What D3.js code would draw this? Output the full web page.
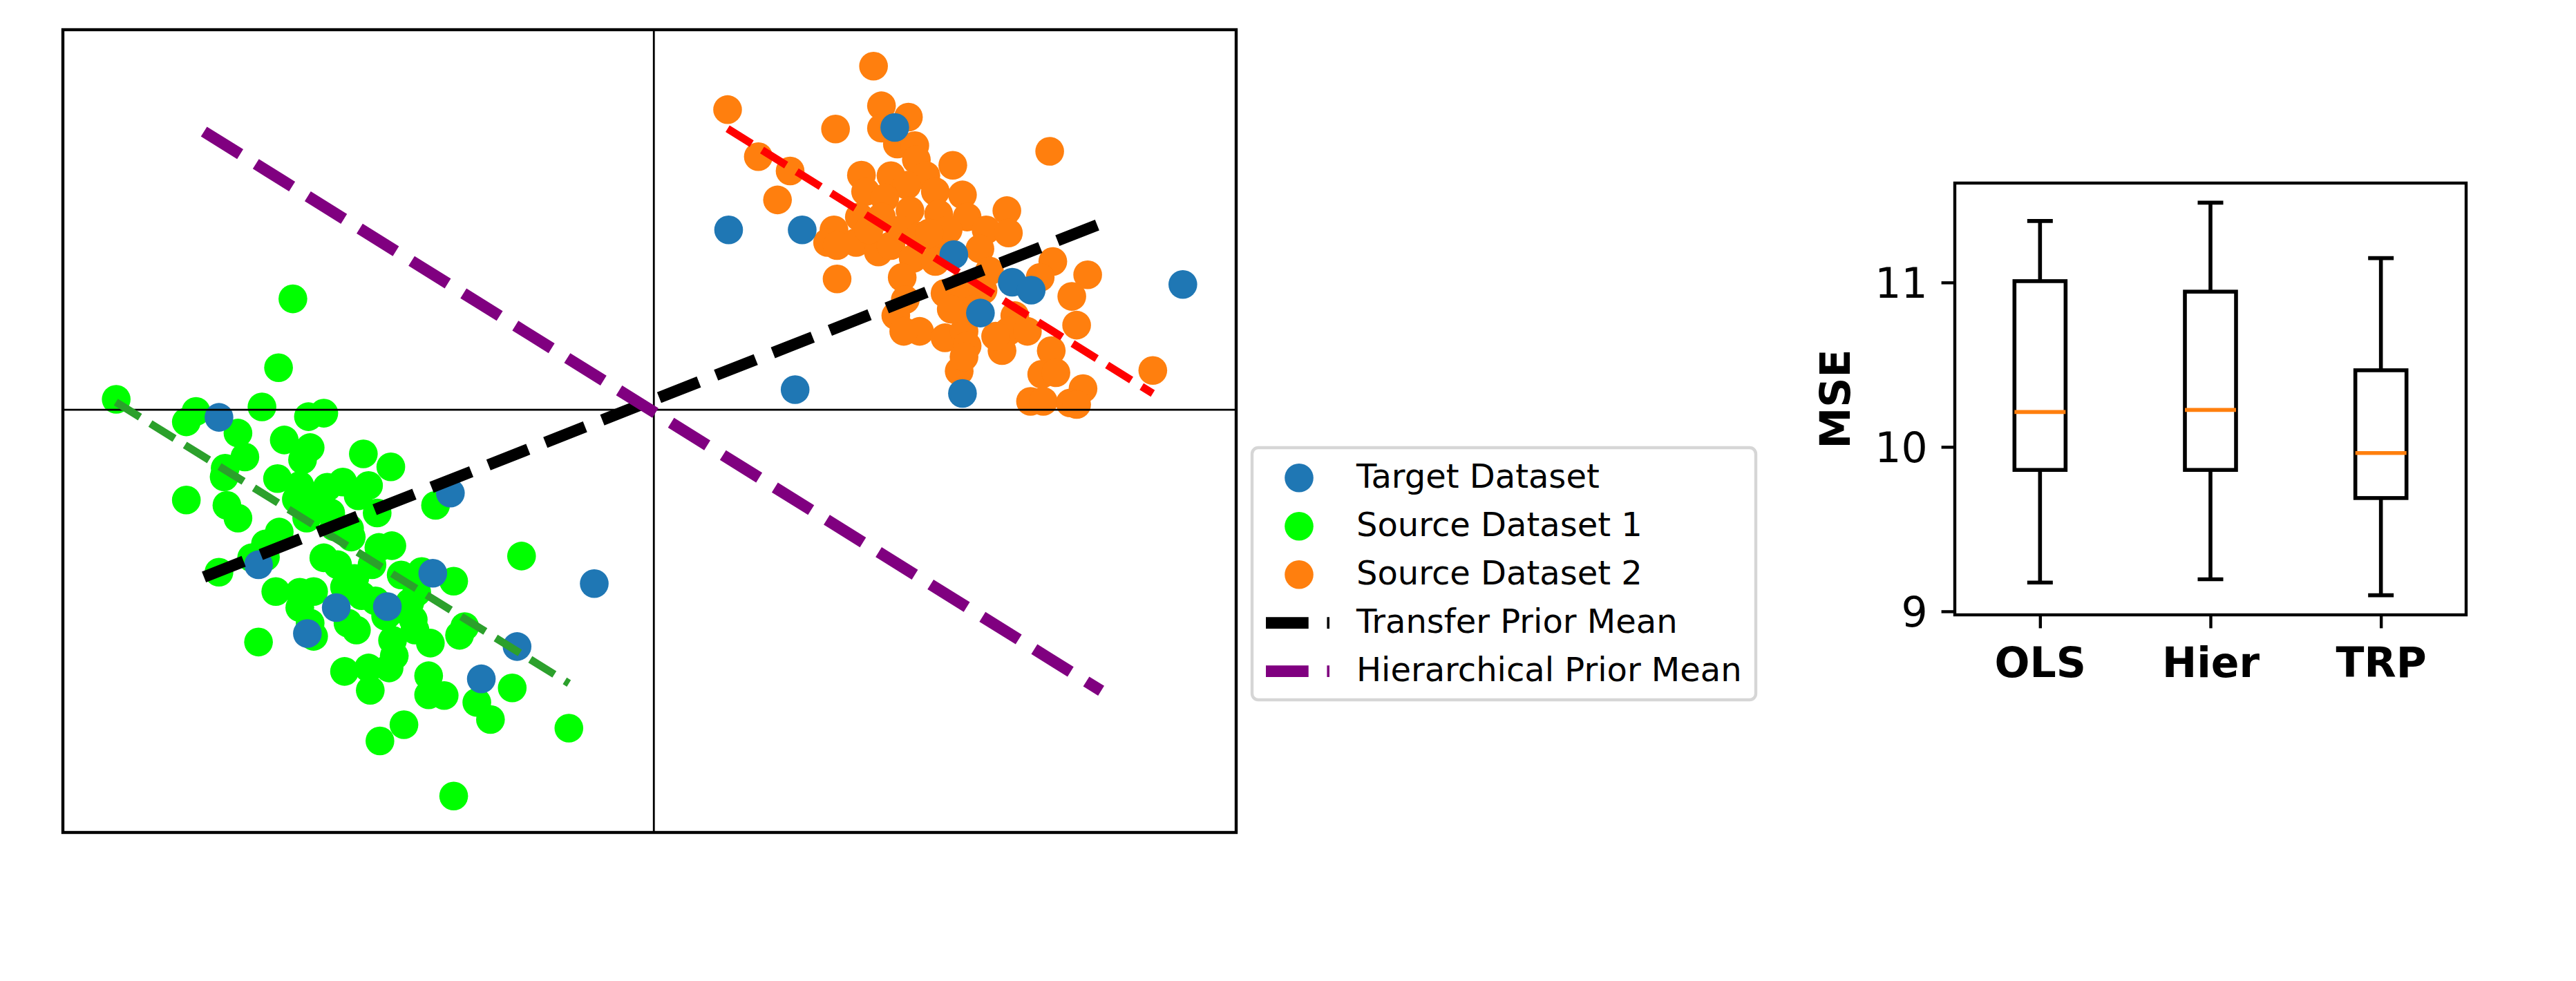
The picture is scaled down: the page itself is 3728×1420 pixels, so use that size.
<!DOCTYPE html>
<html><head><meta charset="utf-8">
<script src="https://cdn.jsdelivr.net/npm/d3@7"></script>
<style>html,body{margin:0;padding:0;background:#fff;} svg{display:block;font-family:"DejaVu Sans",sans-serif;}</style>
</head><body><svg id="chart" width="3728" height="1420"></svg>
<script>
// ---------- scatter data (x, y) ----------
const targetPoints = [[-2.518,-0.044],[-1.178,-0.482],[-2.289,-0.896],[-1.28,-0.945],[-1.839,-1.144],[-1.543,-1.138],[-2.006,-1.294],[-0.792,-1.369],[-0.999,-1.556],[-0.345,-1.005],
[1.395,1.632],[0.433,1.04],[0.859,1.04],[1.737,0.897],[2.075,0.737],[2.185,0.691],[1.891,0.559],[0.818,0.116],[1.787,0.094],[3.063,0.724]];

const source1Points = [[-2.09,0.641],[-2.173,0.243],[-3.113,0.06],[-2.651,-0.01],[-2.707,-0.07],[-2.269,0.016],[-2.0,-0.04],[-1.911,-0.02],[-2.408,-0.135],[-2.14,-0.175],
[-1.99,-0.219],[-2.368,-0.273],[-2.034,-0.289],[-2.482,-0.338],[-2.488,-0.388],[-2.179,-0.398],[-1.682,-0.255],[-1.523,-0.33],[-2.05,-0.438],[-1.891,-0.448],
[-1.801,-0.418],[-1.652,-0.438],[-1.712,-0.498],[-2.707,-0.522],[-2.472,-0.553],[-2.408,-0.627],[-1.99,-0.537],[-2.01,-0.627],[-1.602,-0.597],[-1.264,-0.553],
[-2.169,-0.707],[-2.249,-0.776],[-2.329,-0.856],[-2.249,-0.852],[-2.518,-0.939],[-1.851,-0.677],[-1.762,-0.687],[-1.911,-0.856],[-1.831,-0.896],[-1.632,-0.896],
[-1.592,-0.796],[-1.517,-0.786],[-1.463,-0.955],[-1.344,-0.935],[-1.159,-0.991],[-2.189,-1.051],[-2.05,-1.055],[-1.97,-1.051],[-2.05,-1.144],[-1.791,-1.025],
[-1.692,-1.075],[-1.612,-1.105],[-1.533,-1.174],[-1.413,-1.115],[-1.99,-1.234],[-1.97,-1.31],[-1.722,-1.274],[-1.771,-1.234],[-2.289,-1.343],[-1.513,-1.333],
[-1.503,-1.423],[-1.383,-1.274],[-1.294,-1.349],[-1.125,-1.304],[-1.095,-1.254],[-1.791,-1.513],[-1.652,-1.493],[-1.533,-1.493],[-1.642,-1.622],[-1.304,-1.538],
[-1.304,-1.648],[-1.214,-1.652],[-1.025,-1.692],[-0.946,-1.791],[-0.82,-1.608],[-0.766,-0.846],[-1.447,-1.821],[-1.586,-1.915],[-0.492,-1.841],[-1.159,-2.233],
[-1.553,-1.194],[-2.07,-0.518],[-1.871,-0.597],[-1.752,-0.736],[-1.732,-0.975],[-1.393,-1.214],[-1.373,-1.055]];

const source2Points = [[1.272,1.986],[0.427,1.735],[1.052,1.623],[1.318,1.757],[1.474,1.692],[1.318,1.628],[1.41,1.536],[1.511,1.527],[1.52,1.445],[1.731,1.413],
[2.292,1.494],[0.605,1.463],[0.789,1.38],[0.716,1.213],[1.202,1.356],[1.373,1.353],[1.575,1.353],[1.465,1.298],[1.226,1.261],[1.337,1.224],
[1.63,1.261],[1.787,1.242],[1.483,1.151],[1.649,1.132],[1.814,1.114],[2.044,1.151],[1.19,1.114],[1.318,1.114],[1.428,1.04],[1.539,1.004],
[1.704,1.04],[1.924,1.04],[2.053,1.022],[1.043,1.04],[1.006,0.967],[1.061,0.949],[1.171,0.967],[1.3,0.912],[1.373,0.949],[1.502,0.875],
[1.649,0.893],[1.888,0.93],[1.061,0.756],[1.438,0.765],[1.943,0.802],[2.31,0.857],[2.237,0.765],[2.512,0.78],[1.456,0.636],[1.686,0.673],
[1.777,0.71],[1.906,0.691],[2.42,0.655],[1.401,0.544],[1.539,0.453],[1.447,0.453],[1.686,0.416],[1.796,0.453],[1.814,0.37],[2.09,0.544],
[2.053,0.453],[2.163,0.453],[2.448,0.489],[2.016,0.342],[1.979,0.425],[2.301,0.342],[1.768,0.223],[1.796,0.306],[2.246,0.205],[2.328,0.214],
[2.485,0.122],[2.181,0.048],[2.255,0.048],[2.411,0.039],[2.448,0.03],[2.889,0.227],[1.63,0.857],[1.594,1.022],[1.245,1.04],[1.851,0.581],[1.722,0.581]];

// ---------- line endpoints ----------
const transferLine = [[-2.605,-0.967],[2.59,1.077]];
const hierLine = [[-2.605,1.608],[2.59,-1.625]];
const source1Fit = [[-3.115,0.044],[-0.492,-1.582]];
const source2Fit = [[0.427,1.625],[2.889,0.094]];

const legendLabels = ["Target Dataset","Source Dataset 1","Source Dataset 2","Transfer Prior Mean","Hierarchical Prior Mean"];

// ---------- box plot data ----------
const methods = ["OLS","Hier","TRP"];
const whiskerLow = [9.175, 9.195, 9.098];
const q1 = [9.86, 9.86, 9.689];
const medians = [10.212, 10.225, 9.963];
const q3 = [11.008, 10.944, 10.466];
const whiskerHigh = [11.374, 11.485, 11.148];
const yTickValues = [9, 10, 11];

// ---------- drawing ----------
const svg = d3.select("#chart");
svg.append("rect").attr("width",3728).attr("height",1420).attr("fill","#fff");

const C = {blue:"#1f77b4", lime:"#00ff00", orange:"#ff7f0e", purple:"#800080", red:"#ff0000", green:"#2ca02c"};
const R = 20.8;
const AX = 4.4;

// left scatter axes
const L = {x0:91, x1:1789, y0:43, y1:1205};
const all = [...targetPoints, ...source1Points, ...source2Points];
const xe = d3.extent(all, d=>d[0]), ye = d3.extent(all, d=>d[1]);
const xm = (xe[1]-xe[0])*0.05, ym = (ye[1]-ye[0])*0.05;
const x = d3.scaleLinear().domain([xe[0]-xm, xe[1]+xm]).range([L.x0, L.x1]);
const y = d3.scaleLinear().domain([ye[0]-ym, ye[1]+ym]).range([L.y1, L.y0]);

const gL = svg.append("g");
function pts(data, color){
  gL.append("g").selectAll("circle").data(data).join("circle")
    .attr("cx", d=>x(d[0])).attr("cy", d=>y(d[1])).attr("r", R).attr("fill", color);
}
pts(source1Points, C.lime);
pts(source2Points, C.orange);
pts(targetPoints, C.blue);

// zero lines
gL.append("line").attr("x1",L.x0).attr("x2",L.x1).attr("y1",y(0)).attr("y2",y(0)).attr("stroke","#000").attr("stroke-width",2.8);
gL.append("line").attr("x1",x(0)).attr("x2",x(0)).attr("y1",L.y0).attr("y2",L.y1).attr("stroke","#000").attr("stroke-width",2.8);

const line = d3.line().x(d=>x(d[0])).y(d=>y(d[1]));
function dline(data, color, w){
  gL.append("path").datum(data).attr("d", line).attr("fill","none").attr("stroke",color)
    .attr("stroke-width", w).attr("stroke-dasharray", `${3.7*w},${1.6*w}`);
}
dline(source1Fit, C.green, 11.1);
dline(source2Fit, C.red, 11.1);
dline(transferLine, "#000", 16.7);
dline(hierLine, C.purple, 16.7);

gL.append("rect").attr("x",L.x0).attr("y",L.y0).attr("width",L.x1-L.x0).attr("height",L.y1-L.y0)
  .attr("fill","none").attr("stroke","#000").attr("stroke-width",AX);

// legend
const lg = svg.append("g");
lg.append("rect").attr("x",1812).attr("y",648).attr("width",729).attr("height",365).attr("rx",9)
  .attr("fill","#fff").attr("stroke","#d6d6d6").attr("stroke-width",AX);
const rowY = [691.7, 761.7, 831.7, 901.7, 971.7];
const legendColors = [C.blue, C.lime, C.orange, "#000", C.purple];
legendLabels.forEach((lab,i)=>{
  if(i<3){
    lg.append("circle").attr("cx",1880).attr("cy",rowY[i]).attr("r",R).attr("fill",legendColors[i]);
  } else {
    lg.append("line").attr("x1",1832).attr("x2",1924).attr("y1",rowY[i]).attr("y2",rowY[i])
      .attr("stroke",legendColors[i]).attr("stroke-width",16.7).attr("stroke-dasharray","61.7,26.7");
  }
  lg.append("text").attr("x",1963).attr("y",rowY[i]+14).attr("font-size","48px").attr("fill","#000").text(lab);
});

// box plot axes
const B = {x0:2829, x1:3569, y0:265, y1:890};
const bx = d3.scaleLinear().domain([0.5, 3.5]).range([B.x0, B.x1]);
const lo = d3.min(whiskerLow), hi = d3.max(whiskerHigh), bm = (hi-lo)*0.05;
const by = d3.scaleLinear().domain([lo-bm, hi+bm]).range([B.y1, B.y0]);
const gB = svg.append("g");

const yAxis = d3.axisLeft(by).tickValues(yTickValues).tickFormat(d3.format("d")).tickSize(19.4).tickSizeOuter(0).tickPadding(20);
const gy = gB.append("g").attr("transform",`translate(${B.x0},0)`).call(yAxis);
gy.select(".domain").remove();
gy.selectAll(".tick line").attr("stroke","#000").attr("stroke-width",AX);
gy.selectAll(".tick text").attr("font-size","60px").attr("font-family","DejaVu Sans").attr("fill","#000").attr("dy","0.36em");

const xAxis = d3.axisBottom(bx).tickValues([1,2,3]).tickFormat((d,i)=>methods[i]).tickSize(19.4).tickSizeOuter(0).tickPadding(28);
const gx = gB.append("g").attr("transform",`translate(0,${B.y1})`).call(xAxis);
gx.select(".domain").remove();
gx.selectAll(".tick line").attr("stroke","#000").attr("stroke-width",AX);
gx.selectAll(".tick text").attr("font-size","60px").attr("font-weight","bold").attr("font-family","DejaVu Sans").attr("fill","#000");

const bw = 0.3, cw = 0.15, BL = 5.6;
methods.forEach((m,i)=>{
  const p = i+1;
  const g = gB.append("g").attr("stroke","#000").attr("stroke-width",BL).attr("fill","none");
  g.append("line").attr("x1",bx(p)).attr("x2",bx(p)).attr("y1",by(q3[i])).attr("y2",by(whiskerHigh[i]));
  g.append("line").attr("x1",bx(p)).attr("x2",bx(p)).attr("y1",by(q1[i])).attr("y2",by(whiskerLow[i]));
  g.append("line").attr("x1",bx(p-cw/2)).attr("x2",bx(p+cw/2)).attr("y1",by(whiskerHigh[i])).attr("y2",by(whiskerHigh[i]));
  g.append("line").attr("x1",bx(p-cw/2)).attr("x2",bx(p+cw/2)).attr("y1",by(whiskerLow[i])).attr("y2",by(whiskerLow[i]));
  g.append("rect").attr("x",bx(p-bw/2)).attr("y",by(q3[i])).attr("width",bx(p+bw/2)-bx(p-bw/2)).attr("height",by(q1[i])-by(q3[i]));
  gB.append("line").attr("x1",bx(p-bw/2)).attr("x2",bx(p+bw/2)).attr("y1",by(medians[i])).attr("y2",by(medians[i]))
    .attr("stroke",C.orange).attr("stroke-width",BL);
});

gB.append("rect").attr("x",B.x0).attr("y",B.y0).attr("width",B.x1-B.x0).attr("height",B.y1-B.y0)
  .attr("fill","none").attr("stroke","#000").attr("stroke-width",AX);

gB.append("text").attr("transform",`translate(2677,${(B.y0+B.y1)/2}) rotate(-90)`).attr("text-anchor","middle")
  .attr("font-size","60px").attr("font-weight","bold").attr("fill","#000").text("MSE");
</script></body></html>
